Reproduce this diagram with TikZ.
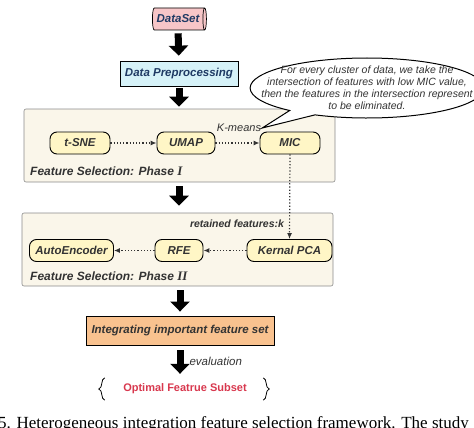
\documentclass[tikz,border=0pt]{standalone}
\usepackage{fontspec}
\setmainfont{Liberation Sans}
\newfontfamily\capfont{Liberation Serif}
\usetikzlibrary{shapes.geometric,shapes.callouts,arrows.meta,decorations.pathreplacing}
\definecolor{dsfill}{HTML}{F7C6C8}
\definecolor{dpfill}{HTML}{D6F2F8}
\definecolor{dptext}{HTML}{1F3A64}
\definecolor{phfill}{HTML}{FAF6EA}
\definecolor{phdraw}{HTML}{8A8A8A}
\definecolor{ndfill}{HTML}{FFF6C6}
\definecolor{intfill}{HTML}{F9C28F}
\definecolor{optred}{HTML}{D8384E}
\definecolor{txtgray}{HTML}{333333}
\tikzset{
  algo/.style={draw=black, line width=0.9pt, fill=ndfill, rounded corners=7pt, minimum height=22pt, inner sep=1pt, font=\fontsize{11.5}{13}\selectfont\bfseries\itshape, text=txtgray},
  phasebox/.style={draw=phdraw, line width=0.6pt, fill=phfill, rounded corners=2pt, minimum width=311pt, minimum height=73pt},
  phaselabel/.style={anchor=west, font=\fontsize{12}{13}\selectfont\bfseries\itshape, text=txtgray, inner sep=0pt},
  bigarrow/.style={line width=7pt, -{Triangle[length=10pt,width=19pt]}, black},
  dotarrow/.style={dotted, line width=1.2pt, draw=txtgray, -{Latex[length=6pt,width=5pt]}},
  smalllab/.style={font=\fontsize{11}{12}\selectfont\itshape, text=txtgray, inner sep=1pt}
}
\begin{document}
\begin{tikzpicture}[x=1pt,y=-1pt]
\useasboundingbox (0,0) rectangle (474,428);
% phase boxes
\node[phasebox] (p1) at (179.5,145.5) {};
\node[phasebox] (p2) at (177.5,249.5) {};
% top
\node[shape=cylinder, shape border rotate=0, draw=black, line width=0.7pt, fill=dsfill, aspect=0.35, minimum width=22pt, minimum height=54pt, inner sep=1pt, font=\fontsize{11.5}{13}\selectfont\bfseries\itshape, text=dptext] (ds) at (178,19) {DataSet};
\node[draw=black, line width=0.7pt, fill=dpfill, minimum width=118pt, minimum height=25pt, font=\fontsize{11.5}{13}\selectfont\bfseries\itshape, text=dptext] (dp) at (179,73.5) {Data Preprocessing};
% phase I nodes
\node[algo, minimum width=60pt] (tsne) at (80,143) {t-SNE};
\node[algo, minimum width=58pt] (umap) at (186,143) {UMAP};
\node[algo, minimum width=60pt] (mic) at (290,143) {MIC};
\node[phaselabel] (l1) at (30,171) {Feature Selection: Phase {\capfont\bfseries\itshape\fontsize{13}{13}\selectfont I}};
\node[smalllab] (km) at (239,128) {K-means};
% phase II nodes
\node[algo, minimum width=84pt] (ae) at (71.5,250.5) {AutoEncoder};
\node[algo, minimum width=48pt] (rfe) at (179,250.5) {RFE};
\node[algo, minimum width=85pt] (kpca) at (289.5,250.5) {Kernal PCA};
\node[phaselabel] (l2) at (30,276) {Feature Selection: Phase {\capfont\bfseries\itshape\fontsize{13}{13}\selectfont II}};
% integrate
\node[draw=black, line width=0.9pt, fill=intfill, minimum width=188pt, minimum height=29pt, font=\fontsize{11.5}{13}\selectfont\bfseries\itshape, text=txtgray] (int) at (180,330.5) {Integrating important feature set};
\node[minimum width=152pt, minimum height=22pt, inner sep=0pt, font=\fontsize{11}{12}\selectfont\bfseries, text=optred] (opt) at (185,389) {Optimal Featrue Subset};
\draw[line width=0.8pt, decorate, decoration={brace, amplitude=6pt}] ([xshift=-4pt]opt.south west) -- ([xshift=-4pt]opt.north west);
\draw[line width=0.8pt, decorate, decoration={brace, amplitude=6pt}] ([xshift=2pt]opt.north east) -- ([xshift=2pt]opt.south east);
% callout
\node[ellipse callout, draw=black, line width=1pt, fill=white, minimum width=212pt, minimum height=60pt, inner xsep=-23pt, inner ysep=-3pt, callout absolute pointer={(km.east)}, align=center, font=\fontsize{10.5}{12}\selectfont\itshape, text=txtgray] (co) at (367,88) {For every cluster of data, we take the\\intersection of features with low MIC value,\\then the features in the intersection represent\\to be eliminated.};
% big arrows
\draw[bigarrow, shorten <=3pt, shorten >=5pt] (ds.south) -- (dp.north);
\draw[bigarrow, shorten <=2pt, shorten >=2pt] (dp.south) -- (dp.south |- p1.north);
\draw[bigarrow, shorten <=4pt, shorten >=7pt] (p1.south -| dp.south) -- (dp.south |- p2.north);
\draw[bigarrow, shorten <=4pt, shorten >=4pt] (p2.south -| int.north) -- (int.north);
\draw[bigarrow, shorten <=5pt, shorten >=4pt] (int.south) -- (int.south |- opt.north) node[midway, anchor=west, xshift=5pt, smalllab, font=\fontsize{11.5}{12}\selectfont\itshape] (ev) {evaluation};
% dotted connectors
\draw[dotarrow] (tsne) -- (umap);
\draw[dotarrow] (umap) -- (mic);
\draw[dotarrow] (mic.south) -- (kpca.north) node[pos=0.82, anchor=east, xshift=-4pt, font=\fontsize{10.5}{12}\selectfont\bfseries\itshape, text=txtgray, inner sep=1pt] (rf) {retained features:k};
\draw[dotarrow] (kpca) -- (rfe);
\draw[dotarrow] (rfe) -- (ae);
% caption (cut off)
\node[anchor=base west, inner sep=0pt, font=\capfont\fontsize{17}{18}\selectfont] (cap) at (-2,428) {5. Heterogeneous integration feature selection framework. The study};
\end{tikzpicture}
\end{document}
